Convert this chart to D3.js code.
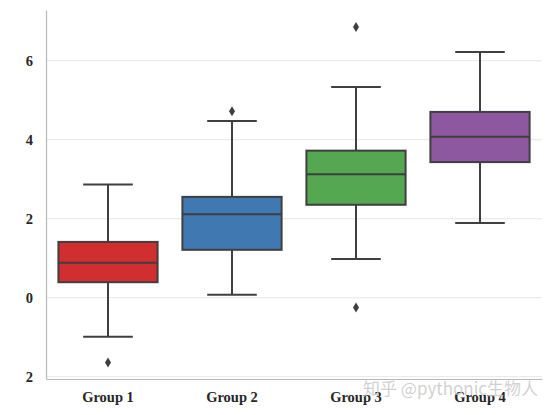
<!DOCTYPE html>
<html>
<head>
<meta charset="utf-8">
<script src="https://cdn.jsdelivr.net/npm/d3@7"></script>
<style>
  html, body { margin: 0; padding: 0; background: #fff; }
</style>
</head>
<body>
<div id="chart"></div>
<script>
// datos
const grupos = ["Group 1", "Group 2", "Group 3", "Group 4"];
const colores = ["#d02e30", "#4079b2", "#55a752", "#8e58a0"];
const q1 = [0.39, 1.21, 2.35, 3.43];
const medianas = [0.88, 2.11, 3.12, 4.07];
const q3 = [1.41, 2.55, 3.72, 4.70];
const bigoteBajo = [-0.99, 0.07, 0.98, 1.89];
const bigoteAlto = [2.86, 4.47, 5.33, 6.22];
const atipicos = [[-1.64], [4.72], [6.85, -0.25], []];
const ticksY = [-2, 0, 2, 4, 6];
const etiquetasY = ["2", "0", "2", "4", "6"];

const W = 551, H = 415;
const margen = { left: 46, right: 9, top: 10, bottom: 36 };

const svg = d3.select("#chart").append("svg")
  .attr("width", W)
  .attr("height", H);

const x = d3.scaleBand()
  .domain(grupos)
  .range([margen.left, W - margen.right])
  .paddingInner(0)
  .paddingOuter(0);

const y = d3.scaleLinear()
  .domain([-2.06, 7.28])
  .range([H - margen.bottom, margen.top]);

// rejilla horizontal
svg.append("g")
  .selectAll("line")
  .data(ticksY)
  .join("line")
  .attr("x1", margen.left)
  .attr("x2", W - margen.right)
  .attr("y1", d => y(d))
  .attr("y2", d => y(d))
  .attr("stroke", "#ebebeb")
  .attr("stroke-width", 1.2);

// ejes
const ejeY = d3.axisLeft(y)
  .tickValues(ticksY)
  .tickSize(0)
  .tickPadding(13)
  .tickFormat((d, i) => etiquetasY[i]);

const gy = svg.append("g")
  .attr("transform", `translate(${margen.left},0)`)
  .call(ejeY);

const ejeX = d3.axisBottom(x).tickSize(0).tickPadding(13);
const gx = svg.append("g")
  .attr("transform", `translate(0,${H - margen.bottom})`)
  .call(ejeX);

[gx, gy].forEach(g => {
  g.select(".domain").attr("stroke", "#b8b8b8").attr("stroke-width", 1.2);
  g.selectAll("text")
    .attr("fill", "#262626")
    .style("font-family", "'Liberation Serif', 'DejaVu Serif', serif")
    .style("font-weight", "bold")
    .style("font-size", "14.5px");
});

// cajas
const ancho = x.bandwidth() * 0.8;
const tapa = ancho / 2;
const linea = "#3f3f3f";
const cajas = svg.append("g");

grupos.forEach((g, i) => {
  const cx = x(g) + x.bandwidth() / 2;
  const caja = cajas.append("g");

  caja.append("line")
    .attr("x1", cx).attr("x2", cx)
    .attr("y1", y(q3[i])).attr("y2", y(bigoteAlto[i]))
    .attr("stroke", linea).attr("stroke-width", 2);
  caja.append("line")
    .attr("x1", cx).attr("x2", cx)
    .attr("y1", y(q1[i])).attr("y2", y(bigoteBajo[i]))
    .attr("stroke", linea).attr("stroke-width", 2);

  [bigoteAlto[i], bigoteBajo[i]].forEach(v => {
    caja.append("line")
      .attr("x1", cx - tapa / 2).attr("x2", cx + tapa / 2)
      .attr("y1", y(v)).attr("y2", y(v))
      .attr("stroke", linea).attr("stroke-width", 2);
  });

  caja.append("rect")
    .attr("x", cx - ancho / 2)
    .attr("y", y(q3[i]))
    .attr("width", ancho)
    .attr("height", y(q1[i]) - y(q3[i]))
    .attr("fill", colores[i])
    .attr("stroke", linea)
    .attr("stroke-width", 2);

  caja.append("line")
    .attr("x1", cx - ancho / 2).attr("x2", cx + ancho / 2)
    .attr("y1", y(medianas[i])).attr("y2", y(medianas[i]))
    .attr("stroke", linea).attr("stroke-width", 2);

  // atipicos en forma de rombo
  caja.selectAll("path.atipico")
    .data(atipicos[i])
    .join("path")
    .attr("class", "atipico")
    .attr("d", "M0,-5L3,0L0,5L-3,0Z")
    .attr("transform", d => `translate(${cx},${y(d)})`)
    .attr("fill", linea);
});

// marca de agua
svg.append("text")
  .attr("x", 538)
  .attr("y", 395)
  .attr("text-anchor", "end")
  .attr("fill", "#c8c8c8")
  .attr("fill-opacity", 0.85)
  .style("font-family", "'Noto Sans CJK SC', 'Noto Sans', sans-serif")
  .style("font-size", "17px")
  .text("知乎 @pythonic生物人");
</script>
</body>
</html>
